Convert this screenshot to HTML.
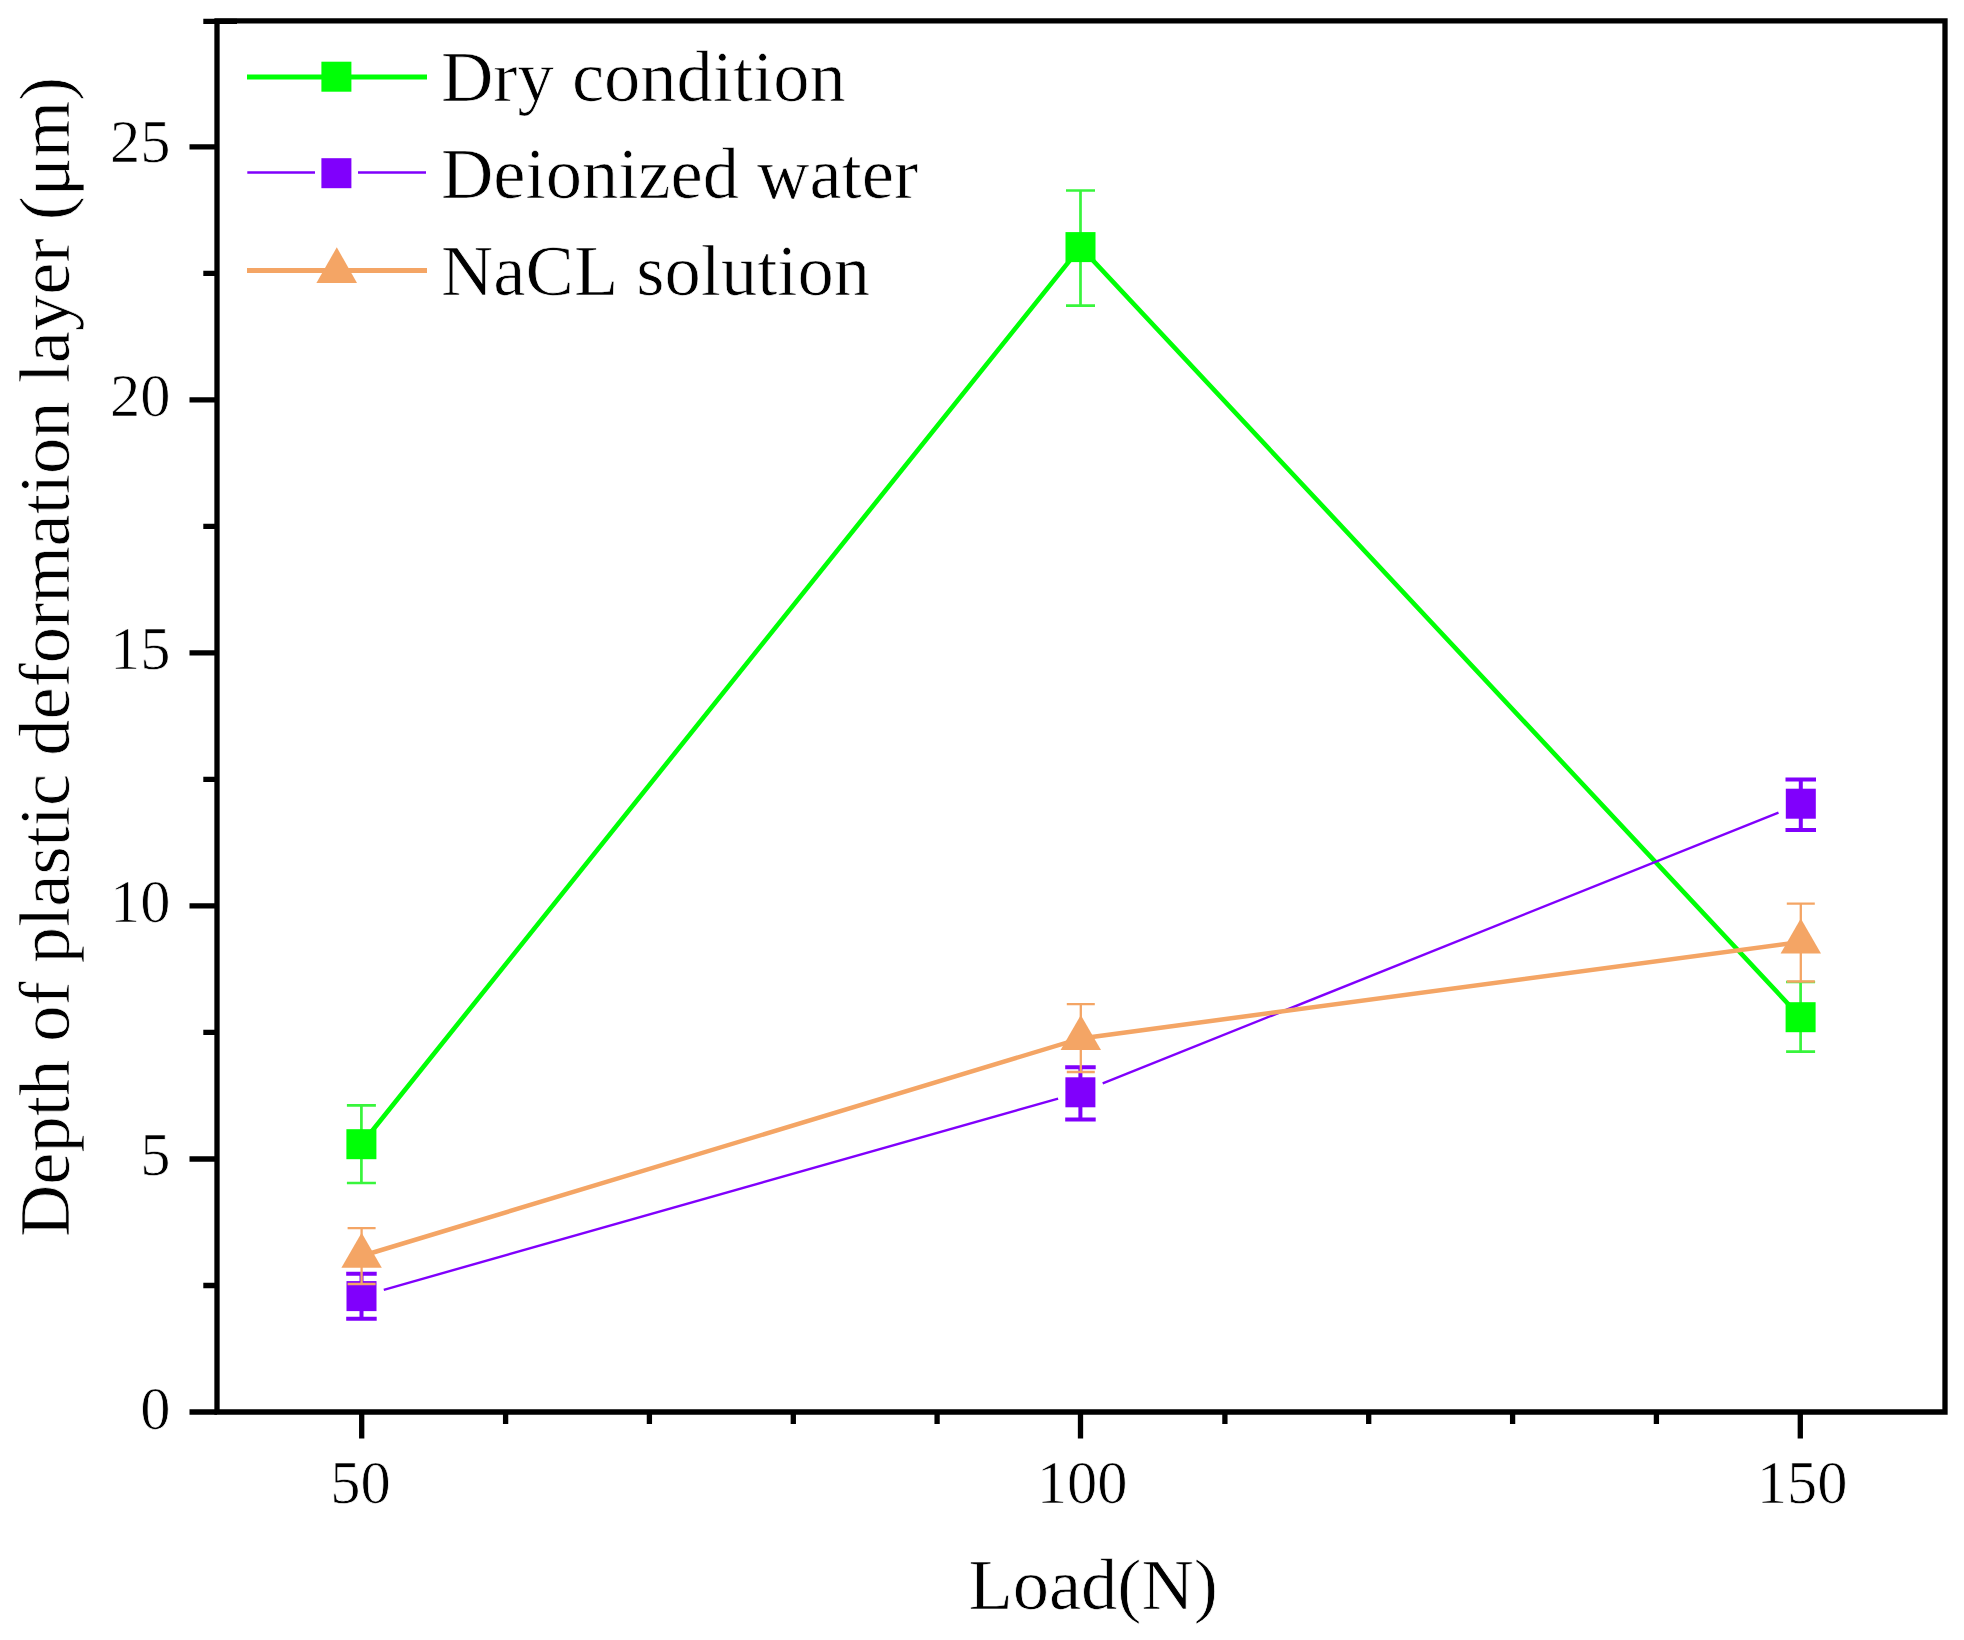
<!DOCTYPE html>
<html lang="en"><head><meta charset="utf-8"><title>Depth of plastic deformation layer vs Load</title>
<style>html,body{margin:0;padding:0;background:#fff;}body{width:1964px;height:1640px;overflow:hidden;}svg{display:block;}text{font-kerning:none;stroke:#fff;stroke-width:0.7px;font-family:"Liberation Serif",serif;fill:#000;}</style></head><body>
<svg width="1964" height="1640" viewBox="0 0 1964 1640">
<rect width="1964" height="1640" fill="#fff"/>
<g id="series-dry">
<path d="M361.4 1105.4V1183.0M346.9 1105.4h29M346.9 1183.0h29" stroke="#38F53C" stroke-width="2.7" fill="none"/>
<path d="M1080.5 190.5V305.7M1066.0 190.5h29M1066.0 305.7h29" stroke="#38F53C" stroke-width="2.7" fill="none"/>
<path d="M1800.6 982.0V1051.7M1786.1 982.0h29M1786.1 1051.7h29" stroke="#38F53C" stroke-width="2.7" fill="none"/>
<polyline points="361.4,1144.2 1080.5,247.1 1800.6,1017.2" stroke="#00FF06" stroke-width="4.6" fill="none" stroke-linejoin="miter"/>
<rect x="346.4" y="1129.2" width="30" height="30" fill="#00FF06"/>
<rect x="1065.5" y="232.1" width="30" height="30" fill="#00FF06"/>
<rect x="1785.6" y="1002.2" width="30" height="30" fill="#00FF06"/>
</g>
<g id="series-water">
<path d="M361.5 1273.8V1318.8M346.2 1273.8h30.5M346.2 1318.8h30.5" stroke="#8000FC" stroke-width="4" fill="none"/>
<path d="M1080.4 1067.3V1119.4M1065.2 1067.3h30.5M1065.2 1119.4h30.5" stroke="#8000FC" stroke-width="4" fill="none"/>
<path d="M1800.8 779.5V830.0M1785.5 779.5h30.5M1785.5 830.0h30.5" stroke="#8000FC" stroke-width="4" fill="none"/>
<line x1="383.8" y1="1289.8" x2="1058.1" y2="1098.6" stroke="#8000FC" stroke-width="2.4"/>
<line x1="1102.7" y1="1083.4" x2="1778.5" y2="812.6" stroke="#8000FC" stroke-width="2.4"/>
<rect x="346.5" y="1281.1" width="30" height="30" fill="#8000FC"/>
<rect x="1065.4" y="1077.3" width="30" height="30" fill="#8000FC"/>
<rect x="1785.8" y="788.7" width="30" height="30" fill="#8000FC"/>
</g>
<g id="series-nacl">
<path d="M361.6 1228.2V1284.0M347.6 1228.2h28M347.6 1284.0h28" stroke="#F4A565" stroke-width="2.3" fill="none"/>
<path d="M1080.8 1004.1V1072.0M1066.8 1004.1h28M1066.8 1072.0h28" stroke="#F4A565" stroke-width="2.3" fill="none"/>
<path d="M1800.8 903.6V981.5M1786.8 903.6h28M1786.8 981.5h28" stroke="#F4A565" stroke-width="2.3" fill="none"/>
<polyline points="361.6,1256.0 1080.8,1038.4 1800.8,941.9" stroke="#F4A565" stroke-width="4.5" fill="none"/>
<polygon points="361.6,1232.7 381.8,1267.7 341.4,1267.7" fill="#F4A565"/>
<polygon points="1080.8,1015.1 1101.0,1050.1 1060.6,1050.1" fill="#F4A565"/>
<polygon points="1800.8,918.6 1821.0,953.6 1780.6,953.6" fill="#F4A565"/>
</g>
<g id="axes" stroke="#000" stroke-width="5.3" fill="none">
<path d="M217.0 18.150000000000002V1414.65M1945.0 18.150000000000002V1414.65M214.35 20.8H1947.65M214.35 1412.0H1947.65"/>
<path d="M189.5 1412.0H217.0M189.5 1159.0H217.0M189.5 905.9H217.0M189.5 652.9H217.0M189.5 399.8H217.0M189.5 146.8H217.0M203.3 1285.5H217.0M203.3 1032.4H217.0M203.3 779.4H217.0M203.3 526.3H217.0M203.3 273.3H217.0M203.3 21.4H237M361.7 1412.0V1438.5M1080.5 1412.0V1438.5M1800.3 1412.0V1438.5M505.6 1412.0V1424M649.4 1412.0V1424M793.3 1412.0V1424M937.1 1412.0V1424M1224.9 1412.0V1424M1368.7 1412.0V1424M1512.6 1412.0V1424M1656.4 1412.0V1424"/>
</g>
<g id="ylabels" font-size="60.5" text-anchor="end">
<text x="170.5" y="1428.7">0</text>
<text x="170.5" y="1175.3">5</text>
<text x="170.5" y="922.3">10</text>
<text x="170.5" y="669.4">15</text>
<text x="170.5" y="415.6">20</text>
<text x="170.5" y="162.0">25</text>
</g>
<g id="xlabels" font-size="60.5" text-anchor="middle">
<text x="360.4" y="1503.3">50</text>
<text x="1082.0" y="1503.3">100</text>
<text x="1802.1" y="1503.3">150</text>
</g>
<text x="1093.2" y="1608.8" font-size="72.5" text-anchor="middle">Load(N)</text>
<text transform="translate(68.8 1237) rotate(-90)" font-size="72.5">Depth of plastic deformation layer (μm)</text>
<g id="legend">
<line x1="247" y1="77" x2="427" y2="77" stroke="#00FF06" stroke-width="4.8"/><rect x="321.4" y="61.7" width="30" height="30" fill="#00FF06"/>
<path d="M247.3 172.5H315M358 172.5H426" stroke="#8000FC" stroke-width="2.6"/><rect x="321.4" y="158.2" width="30" height="30" fill="#8000FC"/>
<line x1="247" y1="270.5" x2="427" y2="270.5" stroke="#F4A565" stroke-width="4.8"/><polygon points="336.8,247.3 357,283.1 316.4,283.1" fill="#F4A565"/>
<text x="441" y="101.1" font-size="72.5">Dry condition</text>
<text x="441" y="198.2" font-size="72.5">Deionized water</text>
<text x="441" y="295" font-size="72.5">NaCL solution</text>
</g>
</svg></body></html>
